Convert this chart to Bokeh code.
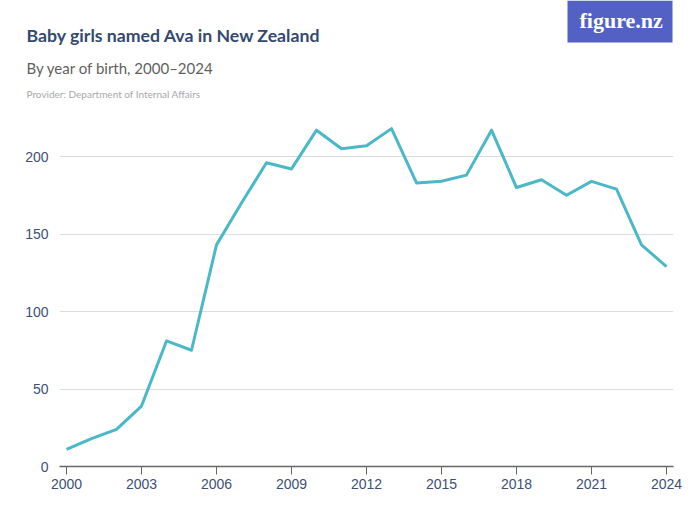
from bokeh.plotting import figure
from bokeh.layouts import column
from bokeh.models import Label, BoxAnnotation, FixedTicker, Range1d
from bokeh.embed import file_html
from bokeh.resources import INLINE

years = list(range(2000, 2025))
values = [11, 18, 24, 39, 81, 75, 143, 170, 196, 192, 217, 205, 207, 218, 183, 184, 188, 217, 180, 185, 175, 184, 179, 143, 129]
x_ticks = [2000, 2003, 2006, 2009, 2012, 2015, 2018, 2021, 2024]
y_ticks = [0, 50, 100, 150, 200]
title_text = "Baby girls named Ava in New Zealand"
subtitle_text = "By year of birth, 2000–2024"
provider_text = "Provider: Department of Internal Affairs"
logo_text = "figure.nz"

INK = "#3d4f75"

head = figure(width=690, height=110, output_backend="svg", toolbar_location=None,
              x_axis_type=None, y_axis_type=None, x_range=Range1d(0, 1), y_range=Range1d(0, 1),
              min_border=0, min_border_left=0, min_border_right=0, min_border_top=0, min_border_bottom=0,
              frame_align=False,
              outline_line_color=None, border_fill_color="white", background_fill_color="white")
head.xgrid.visible = False
head.ygrid.visible = False

def text(x, y, s, size, color, font, style="normal"):
    head.add_layout(Label(x=x, y=y, x_units="canvas", y_units="canvas", text=s, text_font=font,
                          text_font_size=size, text_color=color, text_font_style=style,
                          text_baseline="middle", text_align="left"))

head.add_layout(BoxAnnotation(left=567, right=672, top=0, bottom=42,
                              left_units="canvas", right_units="canvas", top_units="canvas", bottom_units="canvas",
                              fill_color="#5361c4", fill_alpha=1, line_color=None))
text(26, 35, title_text, "17.7px", "#34496f", "Lato", "bold")
text(26, 67, subtitle_text, "15px", "#5f5f5f", "Lato")
text(26, 93, provider_text, "10px", "#a8a8a8", "Lato")
text(579, 20, logo_text, "22px", "white", "Liberation Serif", "bold")

p = figure(width=690, height=400, output_backend="svg", toolbar_location=None,
           x_range=Range1d(1999.72, 2024.28), y_range=Range1d(0, 229.7),
           min_border_left=59, min_border_right=17, min_border_top=0, min_border_bottom=44,
           frame_align=False,
           background_fill_color="white", border_fill_color="white", outline_line_color=None)
p.line(years, values, line_color="#4ab8c6", line_width=3, line_join="round")

p.xgrid.visible = False
p.ygrid.grid_line_color = "#dcdcdc"
p.ygrid.grid_line_width = 1
p.xaxis.ticker = FixedTicker(ticks=x_ticks)
p.yaxis.ticker = FixedTicker(ticks=y_ticks)
p.xaxis.axis_line_color = "#666666"
p.xaxis.axis_line_width = 1.5
p.xaxis.major_tick_line_color = "#666666"
p.xaxis.major_tick_line_width = 1
p.xaxis.major_tick_out = 8
p.xaxis.major_tick_in = 0
p.xaxis.minor_tick_line_color = None
p.xaxis.major_label_standoff = 4
p.yaxis.axis_line_color = None
p.yaxis.major_tick_line_color = None
p.yaxis.minor_tick_line_color = None
p.yaxis.major_label_standoff = 5
for ax in (p.xaxis[0], p.yaxis[0]):
    ax.major_label_text_font = "Liberation Sans"
    ax.major_label_text_font_size = "14px"
    ax.major_label_text_color = INK

layout = column(head, p, spacing=0)
open("out.html", "w").write(file_html(layout, INLINE))
